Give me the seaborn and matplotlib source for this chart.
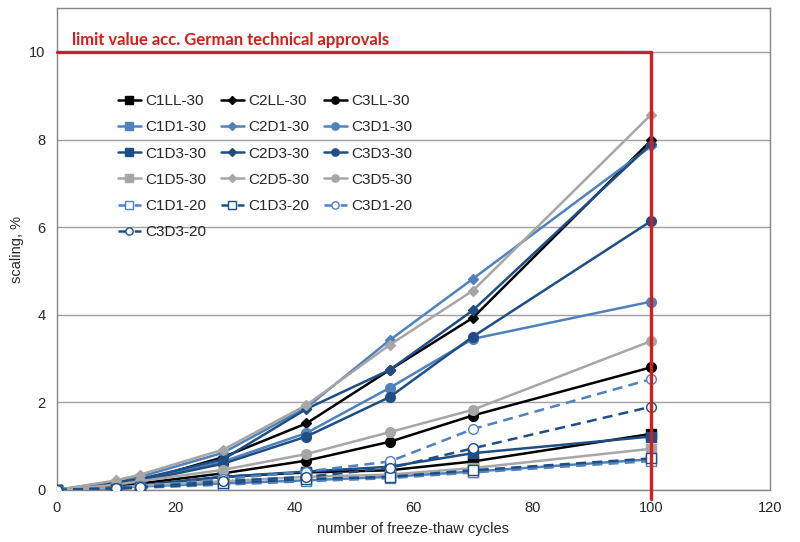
import pandas as pd
import matplotlib
matplotlib.use("Agg")
import matplotlib.pyplot as plt
import seaborn as sns

# Daten
cycles = [0, 10, 14, 28, 42, 56, 70, 100]

series_names = [
    "C1LL-30", "C2LL-30", "C3LL-30",
    "C1D1-30", "C2D1-30", "C3D1-30",
    "C1D3-30", "C2D3-30", "C3D3-30",
    "C1D5-30", "C2D5-30", "C3D5-30",
    "C1D1-20", "C1D3-20", "C3D1-20",
    "C3D3-20",
]

c1ll_30 = [0, 0.05, 0.10, 0.30, 0.40, 0.45, 0.65, 1.28]
c2ll_30 = [0, 0.15, 0.20, 0.75, 1.52, 2.74, 3.93, 7.98]
c3ll_30 = [0, 0.10, 0.15, 0.38, 0.67, 1.10, 1.70, 2.80]
c1d1_30 = [0, 0.05, 0.08, 0.15, 0.22, 0.30, 0.42, 0.70]
c2d1_30 = [0, 0.20, 0.30, 0.85, 1.88, 3.42, 4.82, 7.85]
c3d1_30 = [0, 0.15, 0.20, 0.65, 1.30, 2.33, 3.45, 4.30]
c1d3_30 = [0, 0.05, 0.10, 0.30, 0.42, 0.53, 0.84, 1.22]
c2d3_30 = [0, 0.18, 0.25, 0.70, 1.85, 2.74, 4.10, 7.90]
c3d3_30 = [0, 0.15, 0.20, 0.60, 1.22, 2.12, 3.50, 6.14]
c1d5_30 = [0, 0.05, 0.10, 0.20, 0.30, 0.35, 0.50, 0.94]
c2d5_30 = [0, 0.22, 0.35, 0.92, 1.94, 3.31, 4.55, 8.57]
c3d5_30 = [0, 0.12, 0.20, 0.46, 0.82, 1.32, 1.83, 3.40]
c1d1_20 = [0, 0.03, 0.05, 0.12, 0.20, 0.27, 0.40, 0.66]
c1d3_20 = [0, 0.03, 0.06, 0.15, 0.25, 0.30, 0.45, 0.72]
c3d1_20 = [0, 0.05, 0.08, 0.25, 0.42, 0.65, 1.39, 2.53]
c3d3_20 = [0, 0.04, 0.06, 0.20, 0.30, 0.50, 0.95, 1.90]

values = [
    c1ll_30, c2ll_30, c3ll_30,
    c1d1_30, c2d1_30, c3d1_30,
    c1d3_30, c2d3_30, c3d3_30,
    c1d5_30, c2d5_30, c3d5_30,
    c1d1_20, c1d3_20, c3d1_20,
    c3d3_20,
]

limit_value = 10
limit_cycles = 100

# Farben / Marker
BLACK = "#000000"
MID_BLUE = "#4f81bd"
DARK_BLUE = "#1f4e84"
GREY = "#a6a6a6"
color_of = {"LL": BLACK, "D1": MID_BLUE, "D3": DARK_BLUE, "D5": GREY}
marker_of = {"C1": "s", "C2": "D", "C3": "o"}

sns.set_style("white")
plt.rcParams["font.family"] = ["Liberation Sans", "DejaVu Sans"]

fig, ax = plt.subplots(figsize=(8, 5.42), dpi=100)
fig.subplots_adjust(left=0.071, right=0.9625, top=0.985, bottom=0.096)

ax.set_axisbelow(True)
ax.grid(axis="y", color="#a0a0a0", linewidth=1)

for name, vals in zip(series_names, values):
    mix = name[:2]
    kind = name[2:4]
    dashed = name.endswith("-20")
    col = color_of[kind]
    mk = marker_of[mix]
    ms = 5.5 if mk == "D" else 7
    df = pd.DataFrame({"cycles": cycles, "scaling": vals})
    sns.lineplot(
        data=df, x="cycles", y="scaling", ax=ax,
        color=col, marker=mk, markersize=ms,
        markeredgecolor=col, markeredgewidth=1,
        markerfacecolor="white" if dashed else col,
        linestyle=(0, (4, 2.5)) if dashed else "-",
        linewidth=1.8, label=name, zorder=3,
    )

# Grenzwert
ax.plot([0, limit_cycles], [limit_value, limit_value], color="#d61c1c", linewidth=2.4, zorder=4, clip_on=False)
ax.plot([limit_cycles, limit_cycles], [limit_value, -0.2], color="#d61c1c", linewidth=2.4, zorder=4, clip_on=False)
ax.text(2.5, 10.1, "limit value acc. German technical approvals", color="#d61c1c",
        fontsize=12, fontweight="bold", family=["Lato", "DejaVu Sans"], va="bottom")

ax.set_xlim(0, 120)
ax.set_ylim(0, 11)
ax.set_xticks(range(0, 121, 20))
ax.set_yticks(range(0, 11, 2))
ax.tick_params(axis="both", labelsize=10.5, direction="in", length=4, color="#868686")
ax.tick_params(axis="x", pad=8)
ax.tick_params(axis="y", pad=8)
ax.set_xlabel("number of freeze-thaw cycles", fontsize=10.5, labelpad=5)
ax.set_ylabel("scaling, %", fontsize=10.5, labelpad=4)
for sp in ax.spines.values():
    sp.set_color("#868686")
    sp.set_linewidth(1)

# Legende zeilenweise wie im Original
handles, labels = ax.get_legend_handles_labels()
lookup = dict(zip(labels, handles))
order = [
    "C1LL-30", "C1D1-30", "C1D3-30", "C1D5-30", "C1D1-20", "C3D3-20",
    "C2LL-30", "C2D1-30", "C2D3-30", "C2D5-30", "C1D3-20",
    "C3LL-30", "C3D1-30", "C3D3-30", "C3D5-30", "C3D1-20",
]
ax.legend([lookup[l] for l in order], order, ncol=3, loc="upper left",
          bbox_to_anchor=(0.066, 0.85), frameon=False, fontsize=11,
          handlelength=1.5, handletextpad=0.3, columnspacing=0.95,
          labelspacing=0.8, markerscale=0.75)

fig.savefig("out.png", dpi=100)
